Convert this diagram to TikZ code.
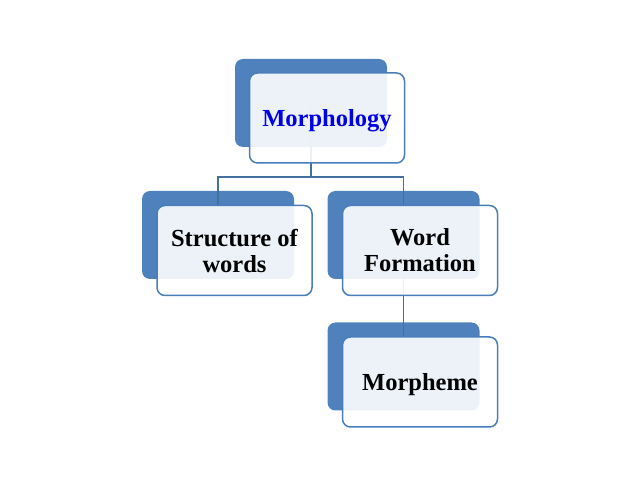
\documentclass[tikz,border=0pt]{standalone}
\usepackage{fontspec}
\setmainfont{Liberation Serif}
\begin{document}
\begin{tikzpicture}[x=1pt,y=-1pt,
  backbox/.style={draw=none,fill=boxblue,rounded corners=8pt,minimum width=152pt,minimum height=88pt,inner sep=0pt},
  frontbox/.style={draw=edgeblue,line width=1.5pt,fill=white,fill opacity=0.9,text opacity=1,rounded corners=8pt,minimum width=155pt,minimum height=90pt,inner sep=0pt,align=center,font=\fontsize{24.5}{26}\selectfont\bfseries},
  link/.style={draw=lineblue,line width=1.8pt}]
\definecolor{boxblue}{HTML}{4F81BD}
\definecolor{edgeblue}{HTML}{4A7EBB}
\definecolor{lineblue}{HTML}{41719C}
\definecolor{txtblue}{HTML}{0000E6}
\useasboundingbox (0,0) rectangle (638,478);
% back boxes
\node[backbox] (b1) at (311,103) {};
\node[backbox] (b2) at (218,235) {};
\node[backbox] (b3) at (403.5,235) {};
\node[backbox] (b4) at (403.5,366.5) {};
% connectors
\coordinate (j) at (311,177);
\draw[link] (b1.center) -- (j);
\draw[link] (b1.center |- j) -| (b2.center);
\draw[link] (b1.center |- j) -| (b3.center);
\draw[link] (b3.center) -- (b4.center);
% front boxes
\node[frontbox,text=txtblue] (f1) at (327,118) {\raisebox{-3pt}[\height][\depth]{Morphology}};
\node[frontbox] (f2) at (234.5,250.5) {Structure of\\words};
\node[frontbox] (f3) at (420,250.5) {Word\\Formation};
\node[frontbox] (f4) at (420,382) {\raisebox{-3pt}[\height][\depth]{Morpheme}};
\end{tikzpicture}
\end{document}
